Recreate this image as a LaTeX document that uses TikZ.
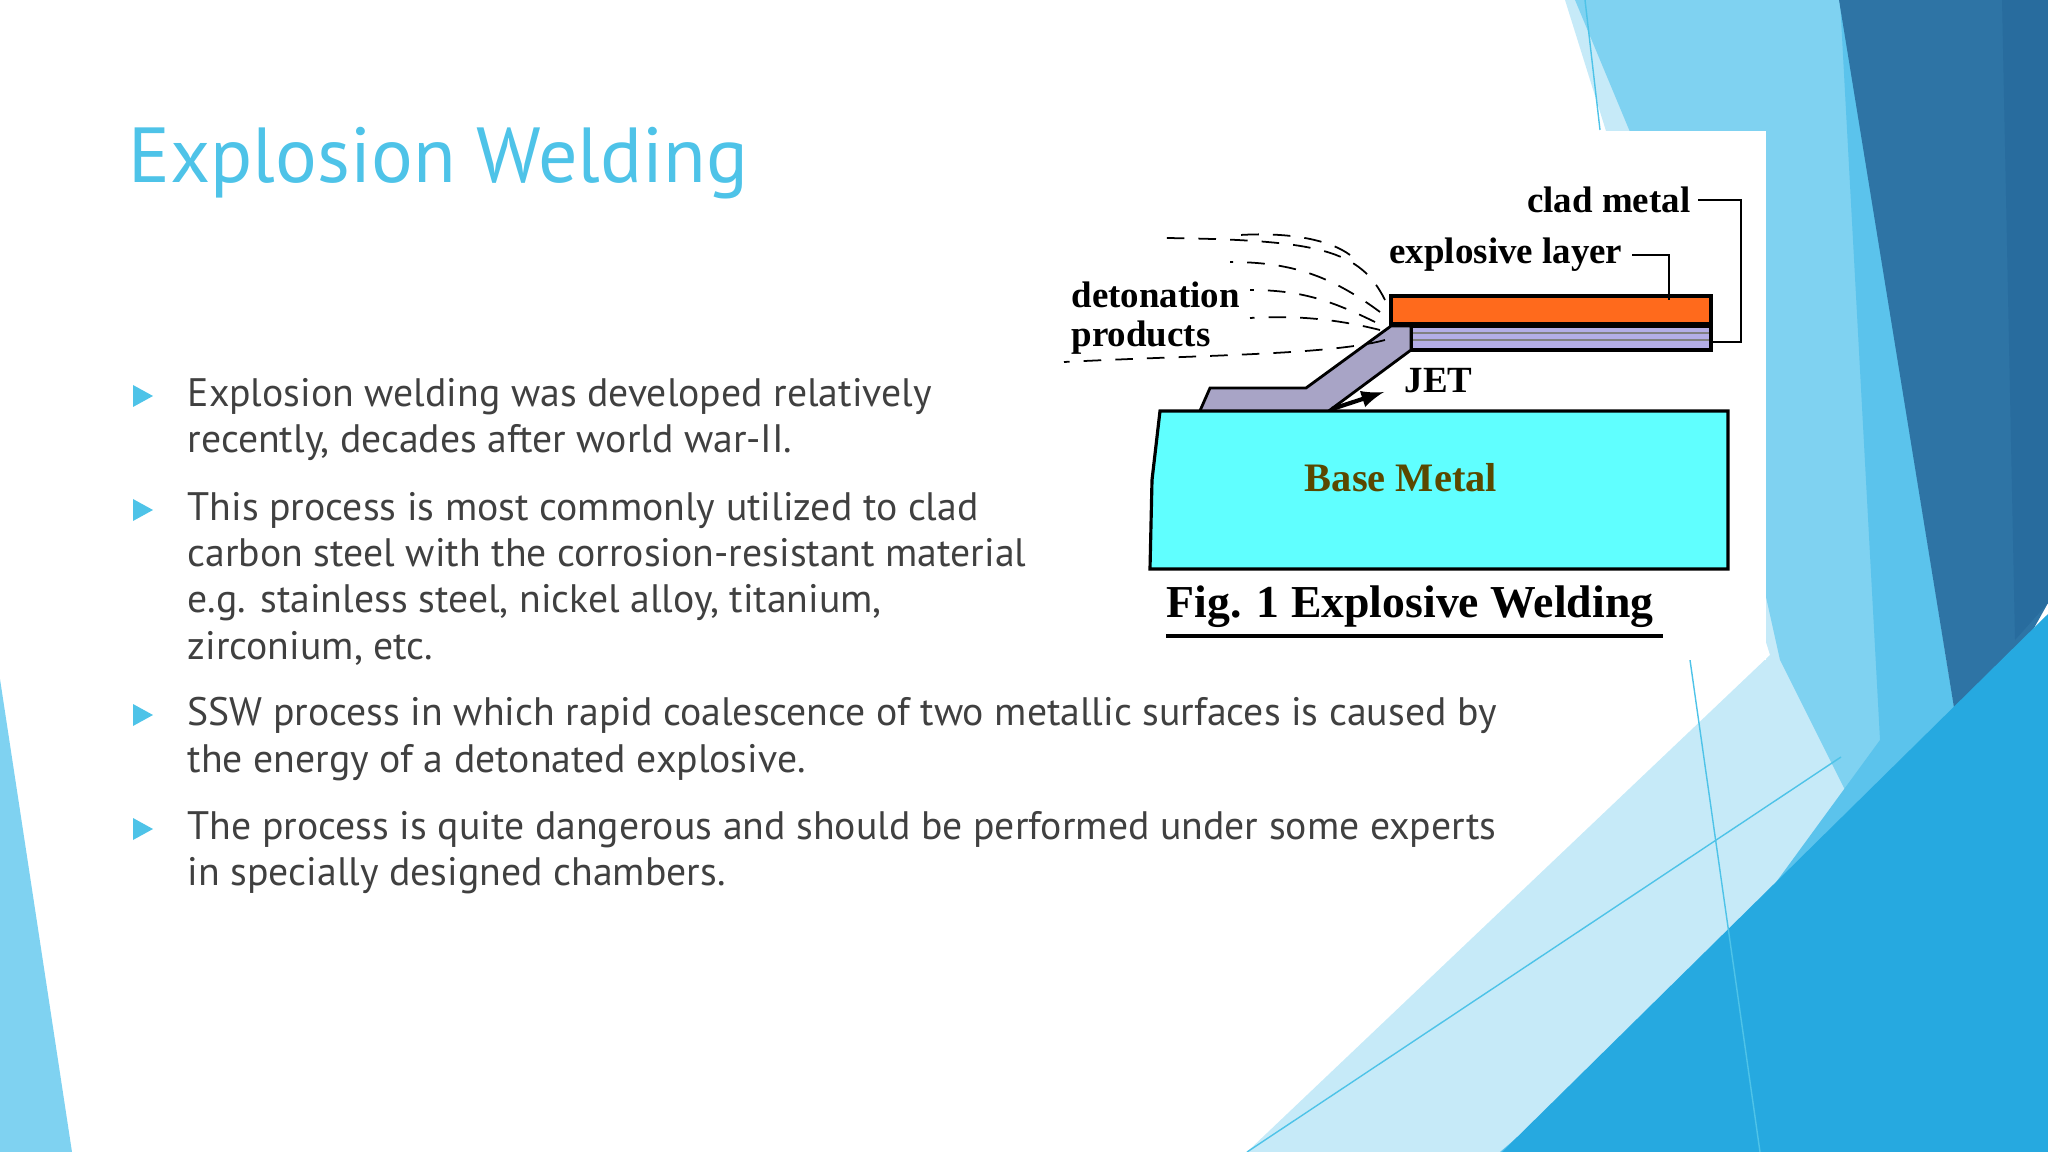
\documentclass[tikz,border=0pt]{standalone}
\usepackage{fontspec}
\setmainfont{PT Sans}
\newfontfamily\figfont{Liberation Serif}
\usetikzlibrary{positioning}

\definecolor{titleblue}{HTML}{4EC3E8}
\definecolor{bodygray}{HTML}{404040}
\definecolor{paleblue}{HTML}{C6EAF8}
\definecolor{lightblue}{HTML}{7FD2F1}
\definecolor{midblue}{HTML}{5BC3EC}
\definecolor{brightblue}{HTML}{26A9E0}
\definecolor{darkblue}{HTML}{2E74A5}
\definecolor{deepblue}{HTML}{286C9E}
\definecolor{explorange}{HTML}{FF6A1C}
\definecolor{cladlav}{HTML}{B4AEE6}
\definecolor{jetgray}{HTML}{A8A4C6}
\definecolor{basecyan}{HTML}{60FFFF}
\definecolor{olive}{HTML}{5A4800}

\tikzset{
    bullet/.style = {fill=titleblue, draw=none},
    item/.style   = {anchor=north west, text=bodygray, font=\fontsize{11.3}{13.1}\selectfont, align=left, inner sep=0pt},
    label/.style  = {font=\figfont\bfseries\fontsize{10.5}{12}\selectfont, inner sep=0pt},
    leader/.style = {draw=black, line width=0.6pt},
    smoke/.style  = {draw=black, line width=0.5pt, dash pattern=on 5pt off 4pt},
}

\begin{document}
\begin{tikzpicture}[x=0.01cm, y=-0.01cm]
    \useasboundingbox (0,0) rectangle (2048,1152);

    % background facets
    \fill[paleblue] (1565,0) -- (1650,0) -- (2048,900) -- (2048,1152) -- (1247,1152) -- (1770,655) -- cycle;
    \fill[lightblue] (1575,0) -- (1840,0) -- (1962,757) -- (1870,840) -- (1780,660) -- (1700,300) -- cycle;
    \fill[midblue] (1840,0) -- (1962,757) -- (1690,1000) -- (1880,740) -- cycle;
    \fill[darkblue] (1839,0) -- (2048,0) -- (2048,603) -- (1962,757) -- cycle;
    \fill[deepblue] (2002,0) -- (2048,0) -- (2048,603) -- (2015,640) -- cycle;
    \fill[midblue] (1500,1152) -- (1962,757) -- (1780,1152) -- cycle;
    \fill[brightblue] (1502,1152) -- (2048,614) -- (2048,1152) -- cycle;
    \fill[lightblue] (0,679) -- (72,1152) -- (0,1152) -- cycle;
    \draw[titleblue, line width=0.4pt] (1247,1152) -- (1841,757);
    \draw[titleblue, line width=0.4pt] (1585,0) -- (1600,130);
    \draw[titleblue, line width=0.4pt] (1690,660) -- (1760,1152);

    % title
    \node[anchor=west, text=titleblue, font=\fontsize{22.2}{26}\selectfont, inner sep=0pt] (title) at (128,163) {Explosion Welding};

    % bullets
    \foreach \y in {396, 510, 715, 829} {
        \fill[bullet] (133,\y-11) -- (153,\y) -- (133,\y+11) -- cycle;
    }
    \node[item] (itemA) at (187,378) {Explosion welding was developed relatively\\recently, decades after world war-II.};
    \node[item] (itemB) at (187,492) {This process is most commonly utilized to clad\\carbon steel with the corrosion-resistant material\\e.g. stainless steel, nickel alloy, titanium,\\zirconium, etc.};
    \node[item] (itemC) at (187,697) {SSW process in which rapid coalescence of two metallic surfaces is caused by\\the energy of a detonated explosive.};
    \node[item] (itemD) at (187,811) {The process is quite dangerous and should be performed under some experts\\in specially designed chambers.};

    % figure panel
    \fill[white] (1060,131) rectangle (1766,660);

    % plates
    \draw[fill=explorange, line width=0.9pt] (1391,296) rectangle (1711,324);
    \draw[fill=cladlav, line width=0.9pt] (1411,326) rectangle (1711,350);
    \draw[gray, line width=0.5pt] (1413,333) -- (1709,333);
    \draw[gray, line width=0.5pt] (1413,340) -- (1709,340);
    \draw[fill=jetgray, line width=0.8pt] (1199,413) -- (1210,388) -- (1306,388) -- (1391,326)
        -- (1411,326) -- (1411,350) -- (1326,413) -- cycle;
    \draw[fill=basecyan, line width=0.9pt] (1160,411) -- (1728,411) -- (1728,569) -- (1150,569) -- (1152,480) -- cycle;

    % detonation products
    \draw[smoke] (1385,300) .. controls (1360,250) and (1320,240) .. (1165,238);
    \draw[smoke] (1380,312) .. controls (1330,275) and (1290,262) .. (1230,262);
    \draw[smoke] (1375,322) .. controls (1330,300) and (1300,290) .. (1250,290);
    \draw[smoke] (1380,330) .. controls (1340,320) and (1300,315) .. (1250,318);
    \draw[smoke] (1385,340) .. controls (1330,355) and (1200,355) .. (1064,362);
    \draw[smoke] (1350,255) .. controls (1330,240) and (1290,232) .. (1240,235);

    % labels
    \node[label, anchor=east] (clad) at (1691,200) {clad metal};
    \node[label, anchor=east] (explosive) at (1623,255) {explosive layer};
    \node[label, anchor=west] (deton) at (1071,295) {detonation};
    \node[label, anchor=west] (prod) at (1071,338) {products};
    \node[label, anchor=west] (jet) at (1404,381) {JET};
    \node[font=\figfont\bfseries\fontsize{11.5}{14}\selectfont, text=olive] (base) at (1401,478) {Base Metal};
    \node[font=\figfont\bfseries\fontsize{13}{15}\selectfont, inner sep=0pt] (caption) at (1410,607) {Fig. 1 Explosive Welding};

    \coordinate (cladend) at (1711,342);
    \coordinate (explend) at (1669,300);
    \draw[leader] (clad.east) ++(7,0) -| (1741,342) -- (cladend);
    \draw[leader] (explosive.east) ++(9,0) -| (explend);
    \draw[line width=1.2pt] (1166,636) -- (1663,636);
    \coordinate (jettail) at (1332,409);
    \draw[line width=1.2pt, -latex] (jettail) -- (1384,392);
\end{tikzpicture}
\end{document}
